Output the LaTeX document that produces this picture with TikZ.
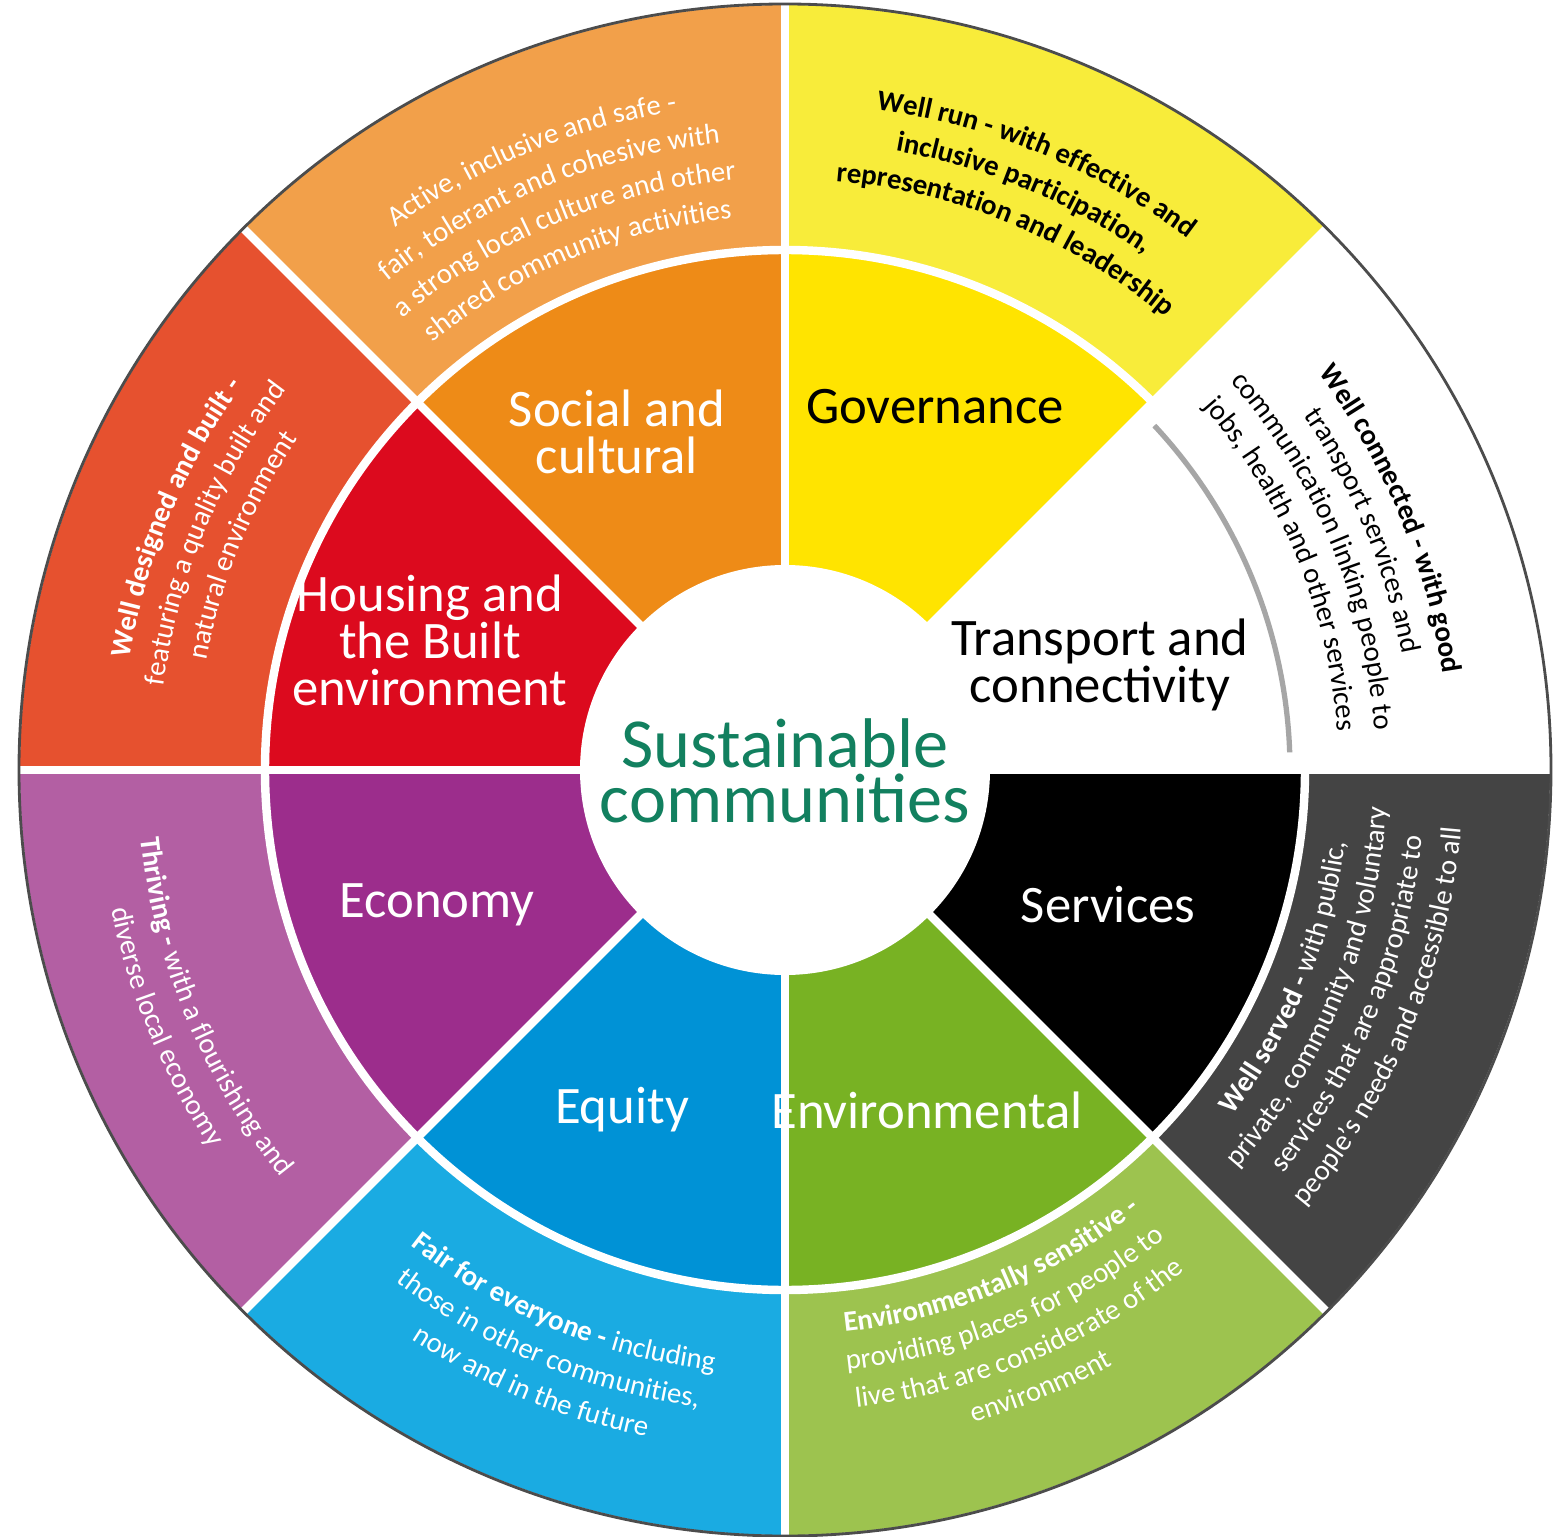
\documentclass[tikz,border=0pt]{standalone}
\usepackage{fontspec}
\setmainfont{Carlito}
\usetikzlibrary{decorations.text}
\definecolor{oO}{HTML}{F2A04A}\definecolor{oI}{HTML}{EE8B17}
\definecolor{yO}{HTML}{F8EC3A}\definecolor{yI}{HTML}{FFE400}
\definecolor{rO}{HTML}{E6512F}\definecolor{rI}{HTML}{DC0A1E}
\definecolor{pO}{HTML}{B35FA3}\definecolor{pI}{HTML}{9C2D8C}
\definecolor{bO}{HTML}{1AABE2}\definecolor{bI}{HTML}{0092D6}
\definecolor{gO}{HTML}{9DC34F}\definecolor{gI}{HTML}{78B223}
\definecolor{kO}{HTML}{444444}\definecolor{kI}{HTML}{000000}
\definecolor{wO}{HTML}{FFFFFF}\definecolor{wI}{HTML}{FFFFFF}
\definecolor{sgreen}{HTML}{12805F}
\newcommand\arctext[5]{\begingroup\fontsize{8.2}{10}\selectfont
\path[decorate,decoration={text along path,text align=center,text color=#1,text={#5}}] (#3:#2) arc[start angle=#3,end angle=#4,radius=#2];\endgroup}
\tikzset{lab/.style={align=center,font=\fontsize{15}{13.4}\selectfont,text=white}}
\begin{document}
\begin{tikzpicture}
\useasboundingbox (-7.85,-7.66) rectangle (7.83,7.70);
\foreach \a/\c in {90/o,45/y,0/w,-45/k,-90/g,-135/b,180/p,135/r}{
  \fill[\c O] (\a:5.2) arc[start angle=\a,end angle=\a+45,radius=5.2] -- (\a+45:7.65) arc[start angle=\a+45,end angle=\a,radius=7.65] -- cycle;
  \fill[\c I] (0,0) -- (\a:5.2) arc[start angle=\a,end angle=\a+45,radius=5.2] -- cycle;
}
\draw[gray!70,line width=1.5pt] (2:5.05) arc[start angle=2,end angle=43,radius=5.05];
\foreach \a in {0,45,...,315} \draw[white,line width=2.4pt] (0,0) -- (\a:7.7);
\draw[white,line width=2.4pt] (0,0) circle[radius=5.2];
\draw[gray!60!black,line width=0.8pt] (0,0) circle[radius=7.66];
\node[circle,fill=white,minimum size=4.1cm,inner sep=0pt] (hub) at (0,0) {};
\node[align=center,text=sgreen,font=\fontsize{20}{15.5}\selectfont] (title) at (0,-0.01) {Sustainable\\communities};
\node[lab] (soc) at (-1.68,3.38) {Social and\\cultural};
\node[lab,text=black] (gov) at (1.50,3.63) {Governance};
\node[lab,text=black] (tra) at (3.15,1.05) {Transport and\\connectivity};
\node[lab] (ser) at (3.23,-1.35) {Services};
\node[lab] (env) at (1.42,-3.40) {Environmental};
\node[lab] (equ) at (-1.63,-3.40) {Equity};
\node[lab] (eco) at (-3.48,-1.35) {Economy};
\node[lab] (hou) at (-3.55,1.30) {Housing and\\the Built\\environment};
% top half
\arctext{white}{6.65}{179}{136}{|\bfseries|Well designed and built -}
\arctext{white}{6.27}{179}{136}{featuring a quality built and}
\arctext{white}{5.89}{179}{136}{natural environment}
\arctext{white}{6.68}{134}{91}{Active, inclusive and safe -}
\arctext{white}{6.30}{134}{91}{fair, tolerant and cohesive with}
\arctext{white}{5.92}{134}{91}{a strong local culture and other}
\arctext{white}{5.54}{134}{91}{shared community activities}
\arctext{black}{6.67}{89}{46}{|\bfseries|Well run - with effective and}
\arctext{black}{6.29}{89}{46}{|\bfseries|inclusive participation,}
\arctext{black}{5.91}{89}{46}{|\bfseries|representation and leadership}
\arctext{black}{6.65}{44}{1}{|\bfseries|Well connected - with good}
\arctext{black}{6.28}{44}{1}{transport services and}
\arctext{black}{5.91}{44}{1}{communication linking people to}
\arctext{black}{5.54}{44}{1}{jobs, health and other services}
% bottom half
\arctext{white}{6.48}{181}{224}{|\bfseries|Thriving - |\mdseries|with a flourishing and}
\arctext{white}{6.88}{181}{224}{diverse local economy}
\arctext{white}{6.05}{226}{269}{|\bfseries|Fair for everyone - |\mdseries|including}
\arctext{white}{6.43}{226}{269}{those in other communities,}
\arctext{white}{6.81}{226}{269}{now and in the future}
\arctext{white}{5.65}{271}{314}{|\bfseries|Environmentally sensitive -}
\arctext{white}{6.03}{271}{314}{providing places for people to}
\arctext{white}{6.41}{271}{314}{live that are considerate of the}
\arctext{white}{6.79}{271}{314}{environment}
\arctext{white}{5.65}{316}{359}{|\bfseries|Well served - |\mdseries|with public,}
\arctext{white}{6.03}{316}{359}{private, community and voluntary}
\arctext{white}{6.41}{316}{359}{services that are appropriate to}
\arctext{white}{6.79}{316}{359}{people's needs and accessible to all}
\end{tikzpicture}
\end{document}
